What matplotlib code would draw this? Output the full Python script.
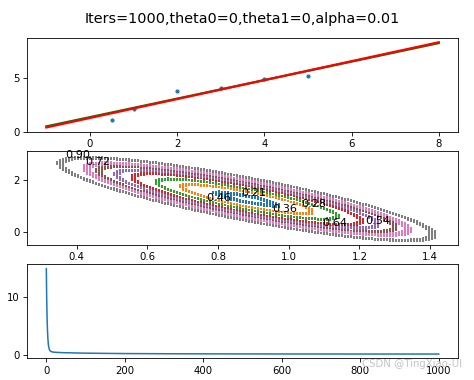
import numpy as np
import matplotlib
matplotlib.use("Agg")
import matplotlib.pyplot as plt

# ---- data ----
x_pts = [0.5, 1.0, 2.0, 3.0, 4.0, 5.0]
y_pts = [1.10, 2.15, 3.78, 4.09, 4.90, 5.24]

x_line = [-1.0, 8.0]
green_theta = (1.38, 0.862)   # (theta0, theta1)
red_theta = (1.30, 0.882)

levels = [0.21, 0.28, 0.36, 0.46, 0.54, 0.64, 0.72, 0.90]
level_colors = ['C0', 'C1', 'C2', 'C3', 'C4', 'C5', 'C6', 'C7']
level_tol = [0.008, 0.007, 0.01, 0.013, 0.015, 0.02, 0.03, 0.03]
label_text = ['0.90', '0.72', '0.46', '0.21', '0.36', '0.28', '0.64', '0.54']
label_xy = [(0.402, 2.97), (0.461, 2.69), (0.801, 1.29), (0.902, 1.49),
            (0.990, 0.88), (1.072, 1.06), (1.131, 0.33), (1.251, 0.41)]

iters = [0, 1, 2, 3, 4, 5, 6, 7, 8, 10, 12, 15, 20, 25, 30, 40, 50, 75, 100,
         150, 200, 300, 400, 500, 600, 700, 800, 900, 1000]
cost = [14.8, 9.6, 6.3, 4.2, 2.9, 2.0, 1.5, 1.2, 0.95, 0.75, 0.65, 0.58, 0.53,
        0.51, 0.49, 0.46, 0.44, 0.40, 0.37, 0.33, 0.30, 0.27, 0.25, 0.24, 0.23,
        0.23, 0.22, 0.22, 0.22]

title = 'Iters=1000,theta0=0,theta1=0,alpha=0.01'

# ---- style ----
fs = 7.3
plt.rcParams.update({
    'font.size': fs,
    'axes.linewidth': 0.6,
    'xtick.major.size': 2.6, 'ytick.major.size': 2.6,
    'xtick.major.width': 0.6, 'ytick.major.width': 0.6,
    'xtick.major.pad': 2.6, 'ytick.major.pad': 2.6,
    'xtick.labelsize': fs, 'ytick.labelsize': fs,
})

fig, axes = plt.subplots(3, 1, figsize=(4.74, 3.8), dpi=100)
fig.subplots_adjust(left=0.0563, right=0.967, bottom=0.0571, top=0.9, hspace=0.205)

# top: data and fitted lines
ax = axes[0]
ax.scatter(x_pts, y_pts, s=4, color='C0', zorder=1)
xl = np.array(x_line)
ax.plot(xl, green_theta[0] + green_theta[1] * xl, color='green', lw=1.6)
ax.plot(xl, red_theta[0] + red_theta[1] * xl, color='red', lw=1.6)
ax.set_title(title, fontsize=10.4, pad=11)
ax.set_yticks([0, 5])

# middle: cost surface level sets
ax = axes[1]
xp = np.array(x_pts)
yp = np.array(y_pts)
t1 = np.arange(0.25, 1.50, 0.0085)
t0 = np.arange(-0.6, 3.2, 0.004)
T1, T0 = np.meshgrid(t1, t0)
J = ((T0[..., None] + T1[..., None] * xp - yp) ** 2).mean(axis=-1)
for lev, col, tol in zip(levels, level_colors, level_tol):
    m = np.abs(J - lev) < tol
    ax.scatter(T1[m], T0[m], s=0.85, marker='s', color=col, linewidths=0)
for txt, (lx, ly) in zip(label_text, label_xy):
    ax.text(lx, ly, txt, ha='center', va='center', fontsize=8.1)
ax.set_xlim(0.2585, 1.48)
ax.set_ylim(-0.515, 3.12)
ax.set_yticks([0, 2])

# bottom: cost history
ax = axes[2]
ax.plot(iters, cost, color='C0', lw=1.1)
ax.set_yticks([0, 10])
ax.set_xticks([0, 200, 400, 600, 800, 1000])

fig.text(0.975, 0.042, 'CSDN @TingXiao-UI', ha='right', va='center',
         fontsize=fs, color='#c4c4c4')

fig.savefig('out.png', dpi=100)
